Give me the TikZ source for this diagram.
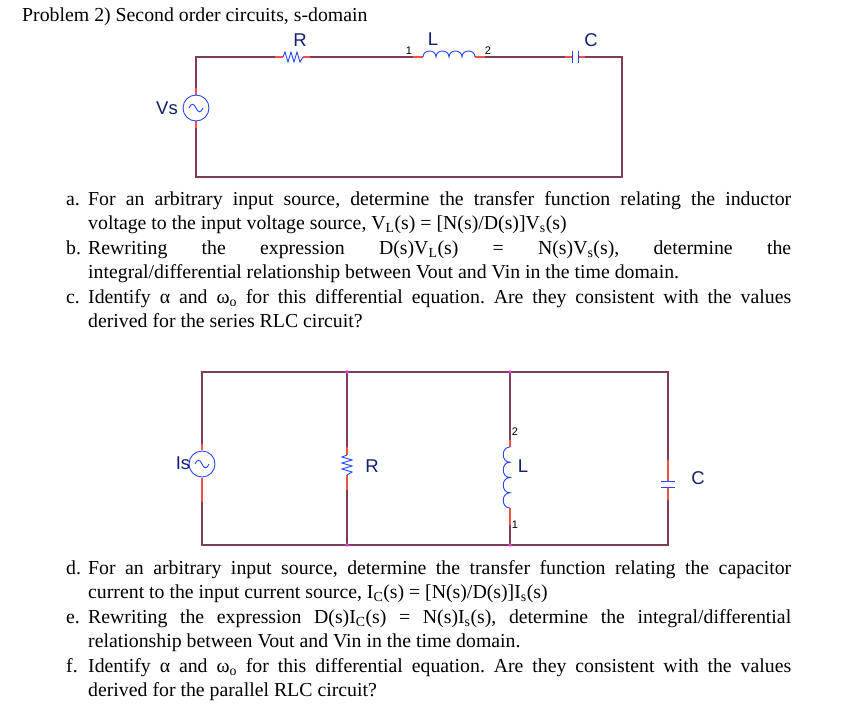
\documentclass[tikz,border=0pt]{standalone}
\usepackage{fontspec}
\setmainfont{Liberation Serif}
\newfontfamily\lab{Liberation Sans}
\frenchspacing
\begin{document}
\begin{tikzpicture}[x=1pt,y=-1pt,
  wire/.style={draw={rgb,255:red,130;green,60;blue,90},line width=1.1pt},
  stub/.style={draw={rgb,255:red,240;green,80;blue,70},line width=1.1pt},
  comp/.style={draw={rgb,255:red,40;green,70;blue,255},line width=0.9pt},
  clab/.style={font=\lab\fontsize{18.5}{18.5}\selectfont,text={rgb,255:red,20;green,30;blue,110},inner sep=0pt},
  pin/.style={font=\lab\fontsize{11}{11}\selectfont,inner sep=0pt},
  dot/.style={circle,fill={rgb,255:red,220;green,60;blue,220},inner sep=1.4pt},
  item/.style={anchor=north west,inner sep=0pt,font=\fontsize{19.8}{24}\selectfont},
  body/.style={item,text width=703pt,align=justify}]
\useasboundingbox (0,0) rectangle (844,724);
\node[item] (title) at (22,4) {\strut Problem 2) Second order circuits, s-domain};
% top circuit
\coordinate (tl) at (196,57); \coordinate (tr) at (622,57);
\coordinate (bl) at (196,177); \coordinate (br) at (622,177);
\draw[wire] (196,95) -- (tl) -- (283,57);
\draw[wire] (303,57) -- (423,57); \draw[wire] (475,57) -- (572,57);
\draw[wire] (578,57) -- (tr) -- (br) -- (bl) -- (196,121);
\draw[stub] (196,88)--(196,95) (196,121)--(196,128) (275,57)--(283,57) (303,57)--(310,57)
 (413,57)--(423,57) (475,57)--(485,57) (565,57)--(572,57) (578,57)--(585,57);
\node[draw={rgb,255:red,40;green,70;blue,255},line width=0.9pt,circle,minimum size=26pt,inner sep=0pt] (vs) at (196,108) {};
\draw[comp] (189,108) .. controls (191,103) and (194,103) .. (196,108) .. controls (198,113) and (201,113) .. (203,108);
\draw[comp] (283,57) -- (285,52) -- (288,62) -- (291,52) -- (294,62) -- (297,52) -- (300,62) -- (303,57);
\draw[comp] (423,57) .. controls (423,49) and (436,49) .. (436,57) .. controls (436,49) and (449,49) .. (449,57)
  .. controls (449,49) and (462,49) .. (462,57) .. controls (462,49) and (475,49) .. (475,57);
\draw[comp] (572,51) -- (572,63) (578,51) -- (578,63);
\node[clab] (lr) at (300,40) {R};
\node[clab] (ll) at (433,39) {L};
\node[pin] (p1) at (409,51) {1};
\node[pin] (p2) at (488,51) {2};
\node[clab] (lc) at (591,40) {C};
\node[clab] (lvs) at (167,108) {Vs};
% text a-c
\node[item] (a) at (66,188) {\strut a.};
\node[body] (ta) at (88,188) {\strut For an arbitrary input source, determine the transfer function relating the inductor\linebreak voltage to the input voltage source, V\textsubscript{L}(s) = [N(s)/D(s)]V\textsubscript{s}(s)};
\node[item] (b) at (66,237) {\strut b.};
\node[body] (tb) at (88,237) {\strut Rewriting the expression D(s)V\textsubscript{L}(s) = N(s)V\textsubscript{s}(s), determine the\linebreak integral/differential relationship between Vout and Vin in the time domain.};
\node[item] (c) at (66,286) {\strut c.};
\node[body] (tc) at (88,286) {\strut Identify α and ω\textsubscript{o} for this differential equation. Are they consistent with the values\linebreak derived for the series RLC circuit?};
% bottom circuit
\coordinate (L0) at (202,372); \coordinate (R0) at (668,372);
\coordinate (L1) at (202,545); \coordinate (R1) at (668,545);
\coordinate (a0) at (347,372); \coordinate (b0) at (510,372);
\coordinate (a1) at (347,545); \coordinate (b1) at (510,545);
\draw[wire] (202,450) -- (L0) -- (R0) -- (668,481) (668,487) -- (R1) -- (L1) -- (202,478);
\draw[wire] (a0) -- (347,455) (347,475) -- (a1);
\draw[wire] (b0) -- (510,447) (510,508) -- (b1);
\draw[stub] (202,444)--(202,450) (202,478)--(202,502) (347,447)--(347,455) (347,475)--(347,490)
 (510,440)--(510,447) (510,508)--(510,525) (668,460)--(668,481) (668,487)--(668,500);
\node[draw={rgb,255:red,40;green,70;blue,255},line width=0.9pt,circle,minimum size=26pt,inner sep=0pt] (is) at (202,464) {};
\draw[comp] (195,464) .. controls (197,459) and (200,459) .. (202,464) .. controls (204,469) and (207,469) .. (209,464);
\draw[comp] (347,455) -- (342,457) -- (352,460) -- (342,463) -- (352,466) -- (342,469) -- (352,472) -- (347,475);
\draw[comp] (510,447) .. controls (501,447) and (501,462.25) .. (510,462.25)
  .. controls (501,462.25) and (501,477.5) .. (510,477.5)
  .. controls (501,477.5) and (501,492.75) .. (510,492.75)
  .. controls (501,492.75) and (501,508) .. (510,508);
\draw[comp] (661,481) -- (675,481) (661,487) -- (675,487);
\node[dot] (d1) at (a0) {}; \node[dot] (d2) at (b0) {};
\node[dot] (d3) at (a1) {}; \node[dot] (d4) at (b1) {};
\node[clab] (lis) at (183,463) {Is};
\node[clab] (lr2) at (372,466) {R};
\node[clab] (ll2) at (523,466) {L};
\node[pin] (q2) at (515,432) {2};
\node[pin] (q1) at (515,525) {1};
\node[clab] (lc2) at (698,478) {C};
% text d-f
\node[item] (d) at (66,557) {\strut d.};
\node[body] (td) at (88,557) {\strut For an arbitrary input source, determine the transfer function relating the capacitor\linebreak current to the input current source, I\textsubscript{C}(s) = [N(s)/D(s)]I\textsubscript{s}(s)};
\node[item] (e) at (66,606) {\strut e.};
\node[body] (te) at (88,606) {\strut Rewriting the expression D(s)I\textsubscript{C}(s) = N(s)I\textsubscript{s}(s), determine the integral/differential\linebreak relationship between Vout and Vin in the time domain.};
\node[item] (f) at (66,655) {\strut f.};
\node[body] (tf) at (88,655) {\strut Identify α and ω\textsubscript{o} for this differential equation. Are they consistent with the values\linebreak derived for the parallel RLC circuit?};
\end{tikzpicture}
\end{document}
